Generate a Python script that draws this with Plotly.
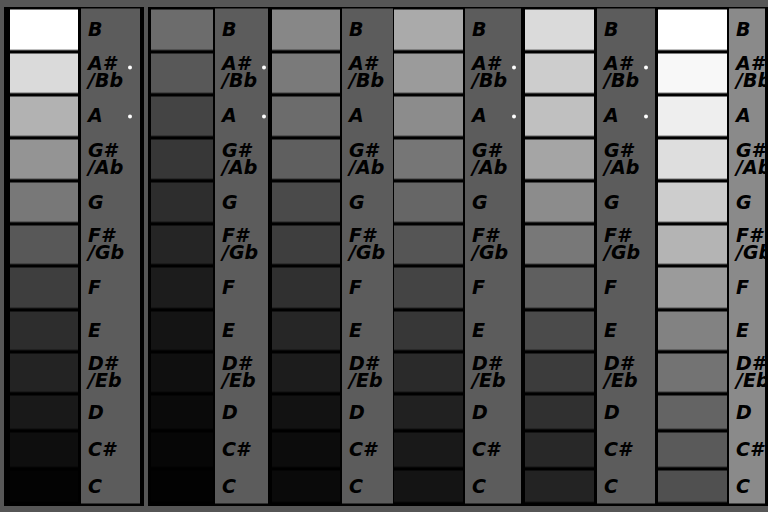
import math
import plotly.graph_objects as go

# ---------------- data ----------------
NOTES = ["B", "A#/Bb", "A", "G#/Ab", "G", "F#/Gb", "F", "E", "D#/Eb", "D", "C#", "C"]

PANEL1 = [255, 218, 178, 148, 120, 88, 62, 45, 35, 25, 14, 3]
PANEL2 = [108, 88, 68, 55, 45, 37, 28, 20, 15, 10, 6, 2]
PANEL3 = [135, 122, 108, 95, 74, 62, 48, 38, 28, 18, 12, 10]
PANEL4 = [170, 155, 140, 118, 102, 85, 68, 55, 42, 33, 25, 20]
PANEL5 = [218, 205, 192, 165, 140, 120, 95, 75, 60, 48, 40, 35]
PANEL6 = [255, 248, 238, 222, 205, 180, 155, 130, 115, 100, 90, 80]
PANELS = [PANEL1, PANEL2, PANEL3, PANEL4, PANEL5, PANEL6]

LABEL_GRAY = [92, 92, 92, 92, 92, 138]

# ---------------- layout geometry ----------------
W, H = 768, 512
ROW_EDGES = [8.5, 52, 95, 138, 181.5, 224, 266.5, 310, 352.5, 394, 431.5, 469.5, 504.5]
SWATCH_X = [(10, 78), (151, 213), (272, 340), (394, 463), (525, 594), (658, 727)]
LABEL_X = [(81, 140), (215, 268), (342, 393), (465, 521), (597, 655), (729, 765)]
FRAME_X = [(4, 144), (148, 768)]
FRAME_Y = (7, 506)
BG = "#565656"
NAN = float("nan")

GRAY_SCALE = [[0, "black"], [1, "white"]]


def edges_and_cols(spans):
    xs, cols = [], []
    for i, (a, b) in enumerate(spans):
        if i > 0:
            cols.append(None)  # gap column
        xs.extend([a, b])
        cols.append(i)
    return xs, cols


fig = go.Figure()

# black frames
fx, fcols = edges_and_cols(FRAME_X)
fig.add_trace(go.Heatmap(
    x=fx, y=list(FRAME_Y),
    z=[[0 if c is not None else NAN for c in fcols]],
    colorscale=GRAY_SCALE, zmin=0, zmax=255, showscale=False, hoverinfo="skip"))

# label columns
lx, lcols = edges_and_cols(LABEL_X)
fig.add_trace(go.Heatmap(
    x=lx, y=[ROW_EDGES[0], ROW_EDGES[-1] - 1],
    z=[[LABEL_GRAY[c] if c is not None else NAN for c in lcols]],
    colorscale=GRAY_SCALE, zmin=0, zmax=255, showscale=False, hoverinfo="skip"))

# swatches
sx, scols = edges_and_cols(SWATCH_X)
zs = []
for r in range(len(NOTES)):
    zs.append([PANELS[c][r] if c is not None else NAN for c in scols])
fig.add_trace(go.Heatmap(
    x=sx, y=ROW_EDGES, z=zs, ygap=3.5,
    colorscale=GRAY_SCALE, zmin=0, zmax=255, showscale=False, hoverinfo="skip"))

# note labels
centers = [(ROW_EDGES[i] + ROW_EDGES[i + 1]) / 2 for i in range(len(NOTES))]
tx, ty, tt = [], [], []
for (a, b) in LABEL_X:
    for r, note in enumerate(NOTES):
        parts = note.split("/")
        if len(parts) == 2:
            tx += [a + 7, a + 7]
            ty += [centers[r] - 8, centers[r] + 9]
            tt += [parts[0], "/" + parts[1]]
        else:
            tx.append(a + 7)
            ty.append(centers[r] + 1)
            tt.append(note)
fig.add_trace(go.Scatter(
    x=tx, y=ty, text=tt, mode="text", textposition="middle right",
    textfont=dict(family="DejaVu Sans", size=19, color="black", weight="bold", style="italic"),
    hoverinfo="skip", showlegend=False))

# small white dots next to A#/A
dx, dy = [], []
for i in [0, 1, 3, 4]:
    a = LABEL_X[i][0]
    dx += [a + 49, a + 49]
    dy += [centers[1] - 6, centers[2]]
fig.add_trace(go.Scatter(
    x=dx, y=dy, mode="markers",
    marker=dict(size=4, color="white", line=dict(width=0)),
    hoverinfo="skip", showlegend=False))

fig.update_layout(
    width=W, height=H,
    margin=dict(l=0, r=0, t=0, b=0),
    paper_bgcolor=BG, plot_bgcolor=BG,
    showlegend=False,
    xaxis=dict(range=[0, W], visible=False, fixedrange=True),
    yaxis=dict(range=[H, 0], visible=False, fixedrange=True),
)

fig.write_html(
    "out.html",
    config={"displayModeBar": False},
    post_script="document.body.style.margin='0';document.body.style.overflow='hidden';document.body.style.background='%s';" % BG,
)
